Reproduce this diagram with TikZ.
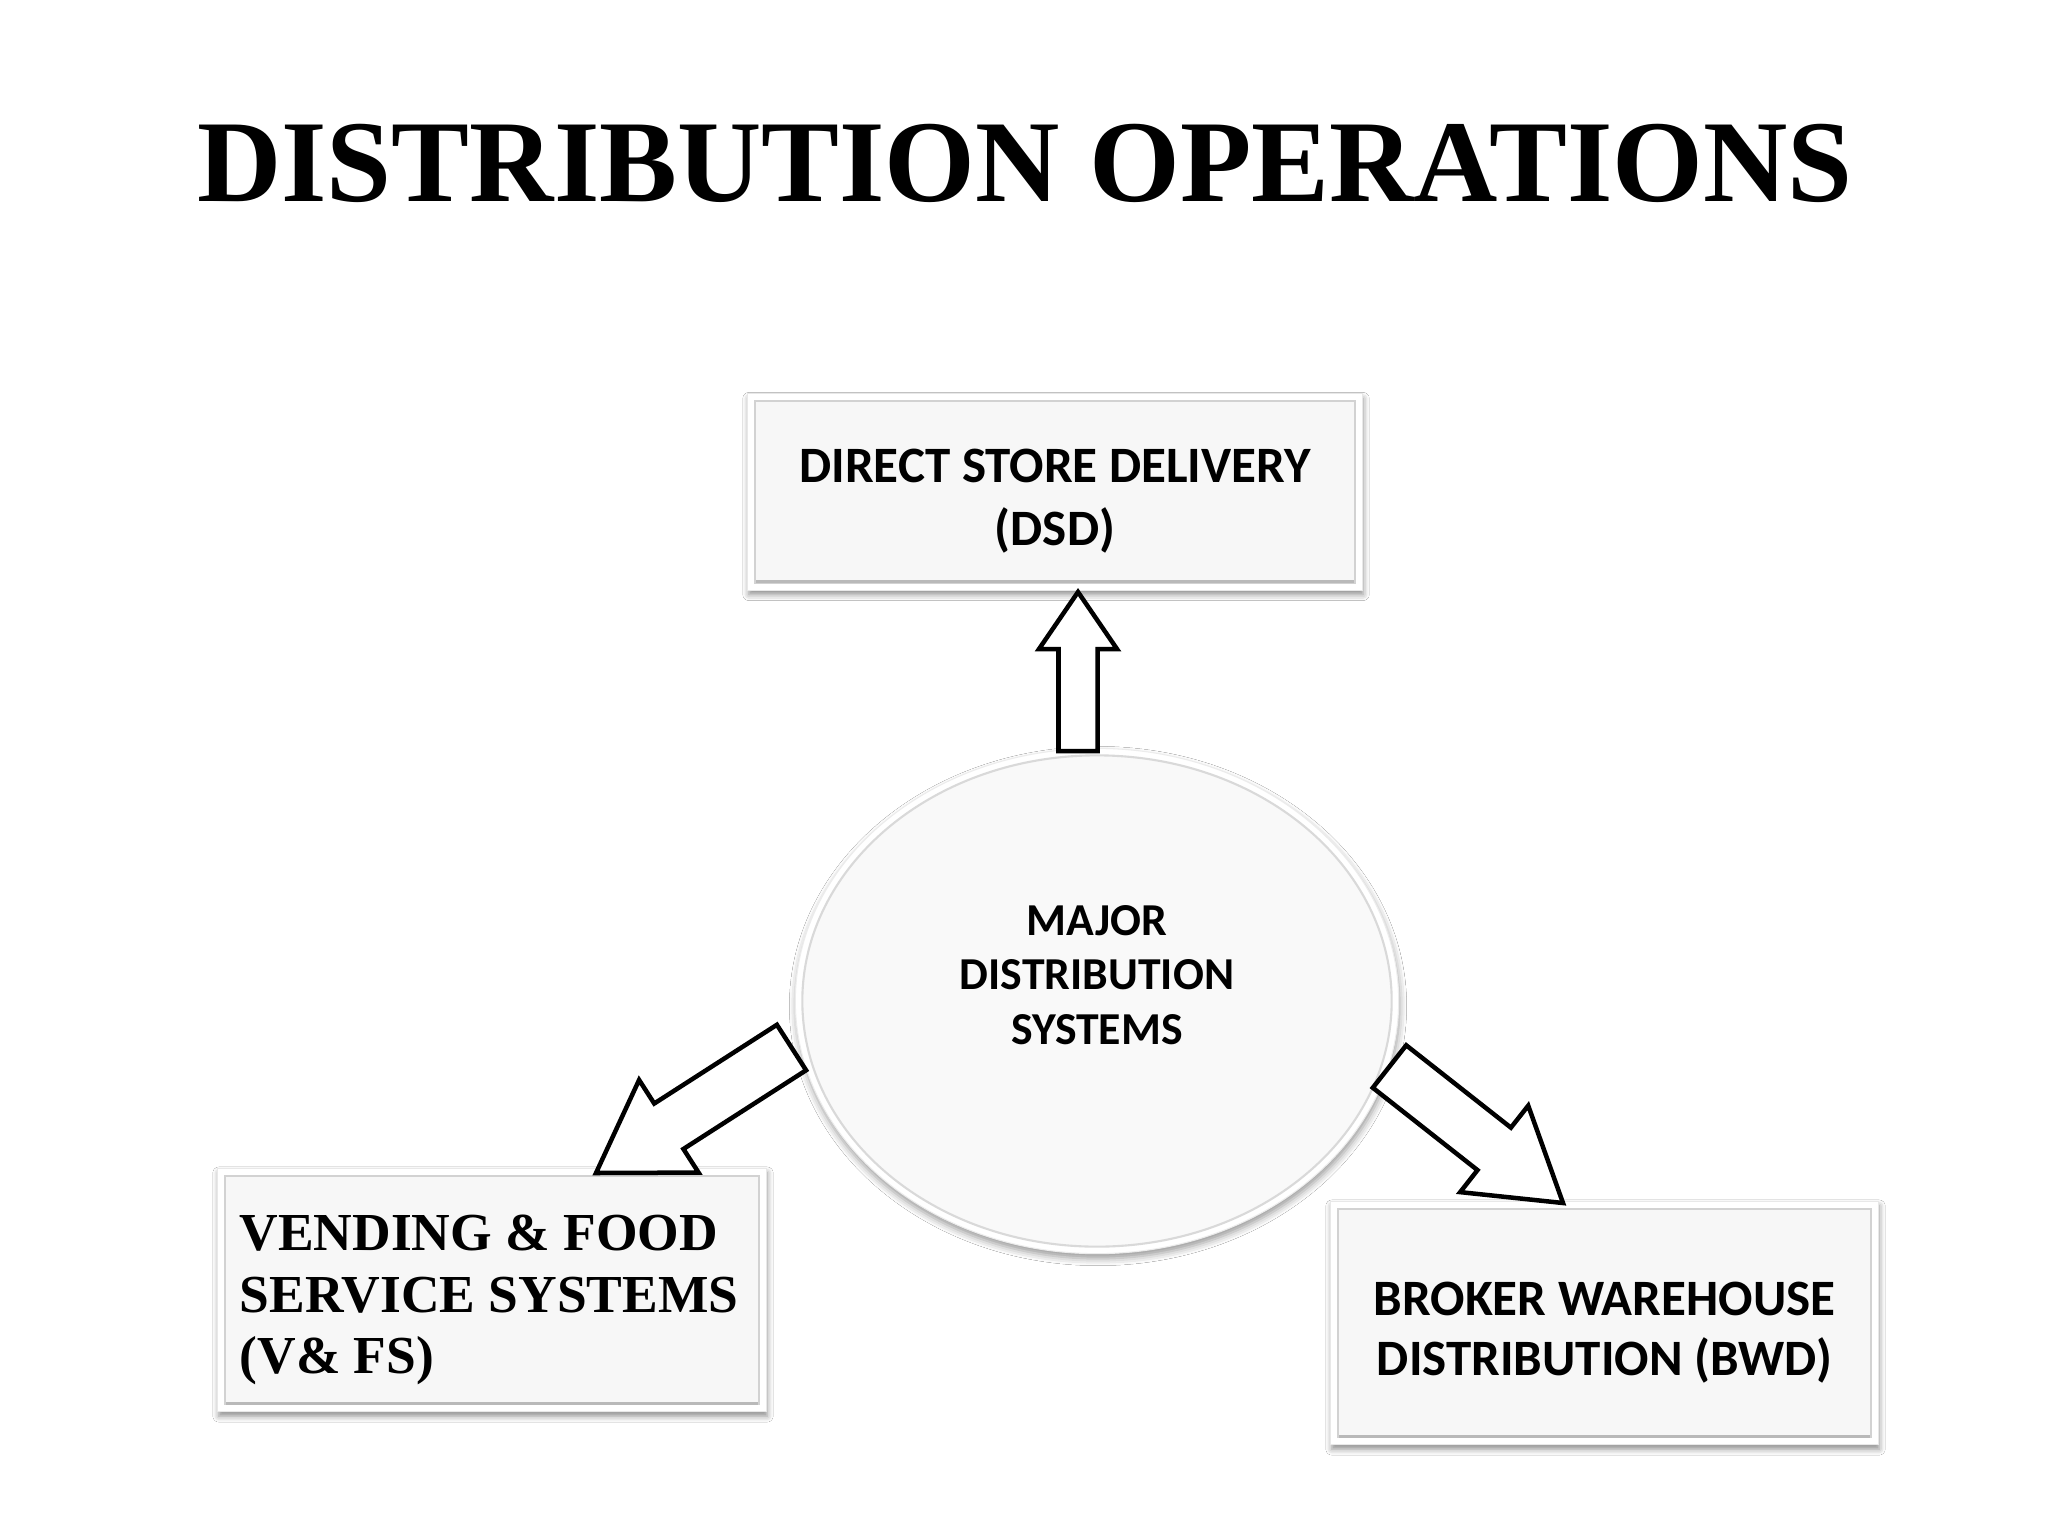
\documentclass[tikz,border=0pt]{standalone}
\usepackage{fontspec}
\setmainfont{Liberation Serif}
\newfontfamily\calfont{Carlito}
\usetikzlibrary{shapes.geometric,shadows.blur,calc}
\tikzset{
  panel/.style={rectangle, fill=white, draw=gray!18, line width=0.3pt,
    blur shadow={shadow xshift=0.01cm, shadow yshift=-0.045cm, shadow blur radius=0.06cm, shadow opacity=45}},
  panelin/.style={fill=gray!6, draw=gray!35, line width=0.6pt},
  oval/.style={ellipse, fill=white, draw=gray!15, line width=0.3pt,
    blur shadow={shadow xshift=0.01cm, shadow yshift=-0.05cm, shadow blur radius=0.07cm, shadow opacity=40}},
  caltext/.style={font=\calfont\bfseries\fontsize{14.5}{17.9}\selectfont, align=center, text=black},
  blk/.style={draw=black, fill=white, line width=0.045cm, line join=miter},
}
\newcommand\blockarr[5]{%
  \coordinate (bh) at ($(#2)!#5!(#1)$);
  \draw[blk] ($(#1)!#3!90:(#2)$) -- ($(bh)!#3!90:(#2)$) -- ($(bh)!#4!90:(#2)$) -- (#2)
    -- ($(bh)!#4!-90:(#2)$) -- ($(bh)!#3!-90:(#2)$) -- ($(#1)!#3!-90:(#2)$) -- cycle;}
\newcommand\panelinner[1]{%
  \draw[panelin] ([shift={(8,8)}]#1.north west) rectangle ([shift={(-8,-8)}]#1.south east);
  \draw[gray!55, line width=0.8pt] ([shift={(9,-9)}]#1.south west) -- ([shift={(-9,-9)}]#1.south east);}
\begin{document}
\begin{tikzpicture}[x=0.01cm,y=-0.01cm]
\useasboundingbox (0,0) rectangle (2048,1536);
\fill[white] (0,0) rectangle (2048,1536);

\node[font=\bfseries\fontsize{33.2}{40}\selectfont] (title) at (1025,163) {DISTRIBUTION OPERATIONS};

% top box
\node[panel, minimum width=6.14cm, minimum height=1.96cm] (dsd) at (1055,492) {};
\panelinner{dsd}
\node[caltext] (dsdt) at (1055,501) {DIRECT STORE DELIVERY\\(DSD)};

% ellipse
\node[oval, minimum width=6.03cm, minimum height=5.05cm] (mds) at (1097,1001) {};
\draw[fill=gray!5, draw=gray!30, line width=0.6pt] (mds.center) ellipse [x radius=2.945cm, y radius=2.455cm];
\node[font=\calfont\bfseries\fontsize{13}{15.4}\selectfont, align=center] (mdst) at (1097,975)
  {MAJOR\\DISTRIBUTION\\SYSTEMS};

% left box
\node[panel, minimum width=5.48cm, minimum height=2.43cm] (vfs) at (492,1290) {};
\panelinner{vfs}
\node[anchor=west, align=left, inner sep=0pt, font=\bfseries\fontsize{15.2}{17.5}\selectfont] (vfst) at (239,1300)
  {VENDING \& FOOD\\SERVICE SYSTEMS\\(V\& FS)};

% right box
\node[panel, minimum width=5.47cm, minimum height=2.43cm] (bwd) at (1604.5,1323) {};
\panelinner{bwd}
\node[caltext, font=\calfont\bfseries\fontsize{14.5}{17}\selectfont] (bwdt) at (1604.5,1332.5)
  {BROKER WAREHOUSE\\DISTRIBUTION (BWD)};

% block arrows
\coordinate (upS) at (1078,751);
\coordinate (upT) at (1078,592);
\blockarr{upS}{upT}{0.195cm}{0.39cm}{0.57cm}

\coordinate (lS) at (791.5,1047.5);
\coordinate (lT) at (596,1173);
\blockarr{lS}{lT}{0.27cm}{0.55cm}{0.865cm}

\coordinate (rS) at (1389.5,1066.5);
\coordinate (rT) at (1563,1203);
\blockarr{rS}{rT}{0.27cm}{0.55cm}{0.875cm}
\end{tikzpicture}
\end{document}
